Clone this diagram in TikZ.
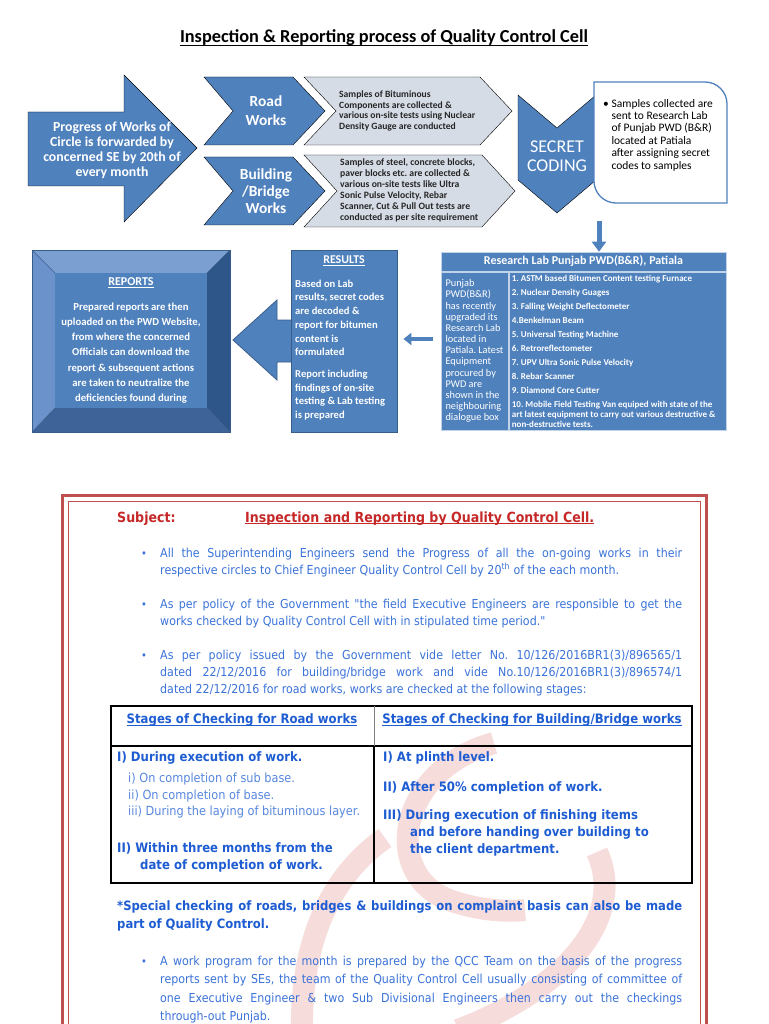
\documentclass[tikz,border=0pt]{standalone}
\usepackage{fontspec}
\setmainfont{Carlito}
\newfontfamily\tahoma[FakeStretch=0.9]{DejaVu Sans}
\usetikzlibrary{arrows.meta}
\definecolor{officeblue}{HTML}{4F81BD}
\definecolor{edgeblue}{HTML}{385D8A}
\definecolor{paleslate}{HTML}{D6DCE6}
\definecolor{bevtop}{HTML}{7C9FD2}
\definecolor{bevleft}{HTML}{6B92CA}
\definecolor{bevright}{HTML}{2F5688}
\definecolor{bevbottom}{HTML}{3D6399}
\definecolor{framered}{HTML}{C0504D}
\definecolor{subjred}{HTML}{C62828}
\definecolor{inkblue}{HTML}{3A72D8}
\definecolor{boldblue}{HTML}{1E5CD2}
\definecolor{markpink}{HTML}{F7DCDC}
\newcommand{\fsz}[2]{\fontsize{#1}{#2}\selectfont}
\newlength\ulw
\newcommand{\undl}[1]{\settowidth{\ulw}{#1}\rlap{#1}\rule[-0.16em]{\ulw}{0.07em}}
\frenchspacing

\begin{document}
\begin{tikzpicture}[x=1pt, y=-1pt,
  flowfill/.style={fill=officeblue},
  slatefill/.style={fill=paleslate},
  whitetext/.style={text=white, align=center, inner sep=0},
  slatetext/.style={text=black!85, align=left, inner sep=0, font=\bfseries\fsz{9.6}{10.7}},
  blockfill/.style={fill=officeblue, draw=edgeblue, line width=0.8pt},
  labcell/.style={fill=officeblue, draw=white!65!officeblue, line width=0.6pt, text=white, inner sep=0},
  para/.style={text width=522, align=justify, inner sep=0, text=inkblue, font=\tahoma\fsz{12.3}{17}},
  dotmark/.style={inner sep=0, text=inkblue, font=\tahoma\fsz{11}{12}},
  boldline/.style={inner sep=0, text=boldblue, font=\tahoma\bfseries\fsz{13}{15}},
  thinline/.style={inner sep=0, text=inkblue!85!white, font=\tahoma\fsz{12.6}{14}},
  tabline/.style={black, line width=1.6pt},
  pinkmark/.style={markpink, line width=22pt}]

\useasboundingbox (0,0) rectangle (768,1024);

% Title
\node[font=\bfseries\fsz{18.3}{20}] (title) at (384,38)
  {\undl{Inspection \& Reporting process of Quality Control Cell}};

% Progress arrow
\draw[flowfill] (28,112) -- (124,112) -- (124,75) -- (197,148) -- (124,222)
  -- (124,186) -- (28,186) -- cycle;
\node[whitetext, font=\bfseries\fsz{13.8}{15}] (progress) at (112,150)
  {Progress of Works of\\Circle is forwarded by\\concerned SE by 20th of\\every month};

% Road and building chevrons
\draw[flowfill] (204,77) -- (293,77) -- (325,111) -- (293,145) -- (204,145) -- (233,111) -- cycle;
\draw[flowfill] (204,157) -- (293,157) -- (325,191) -- (293,225) -- (204,225) -- (233,191) -- cycle;
\node[whitetext, font=\bfseries\fsz{15.4}{19}] (road) at (266,111) {Road\\Works};
\node[whitetext, font=\bfseries\fsz{15.4}{17}] (building) at (266,191) {Building\\/Bridge\\Works};

% Site test chevrons
\draw[slatefill] (304,77) -- (480,77) -- (512,111) -- (480,145) -- (304,145) -- (336,111) -- cycle;
\draw[slatefill] (304,155) -- (482,155) -- (515,191) -- (482,227) -- (304,227) -- (337,191) -- cycle;
\node[slatetext, anchor=west] (roadtests) at (339,111)
  {Samples of Bituminous\\Components are collected \&\\various on-site tests using Nuclear\\Density Gauge are conducted};
\node[slatetext, anchor=west, font=\bfseries\fsz{9.7}{11}] (bldgtests) at (340,190)
  {Samples of steel, concrete blocks,\\paver blocks etc. are collected \&\\various on-site tests like Ultra\\Sonic Pulse Velocity, Rebar\\Scanner, Cut \& Pull Out tests are\\conducted as per site requirement};

% Secret coding chevron
\draw[flowfill] (518,95) -- (557,128) -- (596,95) -- (596,180) -- (557,213) -- (518,180) -- cycle;
\node[whitetext, font=\fsz{18}{19.5}] (secret) at (557,156) {SECRET\\CODING};

% Samples box
\draw[fill=white, draw=officeblue, line width=1.3pt] (594,82) -- (705,82)
  arc[start angle=-90, end angle=0, radius=22] -- (727,203) -- (616,203)
  arc[start angle=90, end angle=180, radius=22] -- cycle;
\node[align=left, inner sep=0, font=\fsz{11.5}{12.4}, anchor=west] (samples) at (603,135)
  {\textbullet\ Samples collected are\\\phantom{\textbullet\ }sent to Research Lab\\\phantom{\textbullet\ }of Punjab PWD (B\&R)\\\phantom{\textbullet\ }located at Patiala\\\phantom{\textbullet\ }after assigning secret\\\phantom{\textbullet\ }codes to samples};

% Research lab
\node[labcell, minimum width=285, minimum height=19, font=\bfseries\fsz{12}{13}] (labhead) at (583.5,261.5)
  {Research Lab Punjab PWD(B\&R), Patiala};
\node[labcell, minimum width=67, minimum height=158, align=left, font=\fsz{10.3}{11.17}] (labnote) at (474.5,351)
  {Punjab\\PWD(B\&R)\\has recently\\upgraded its\\Research Lab\\located in\\Patiala. Latest\\Equipment\\procured by\\PWD are\\shown in the\\neighbouring\\dialogue box};
\node[labcell, minimum width=217, minimum height=158] (labkit) at (617.5,351) {};
\node[text=white, align=left, inner sep=0, anchor=west, font=\bfseries\fsz{9}{10}] (kitlist) at ([xshift=3pt]labkit.west)
  {1. ASTM based Bitumen Content testing Furnace\\[4pt]2. Nuclear Density Guages\\[4pt]3. Falling Weight Deflectometer\\[4pt]4.Benkelman Beam\\[4pt]5. Universal Testing Machine\\[4pt]6. Retroreflectometer\\[4pt]7. UPV Ultra Sonic Pulse Velocity\\[4pt]8. Rebar Scanner\\[4pt]9. Diamond Core Cutter\\[4pt]10. Mobile Field Testing Van equiped with state of the\\art latest equipment to carry out various destructive \&\\non-destructive tests.};

\coordinate (codedown) at (599,221);
\draw[officeblue, line width=5pt, -{Triangle[width=14pt,length=10pt]}] (codedown) -- (codedown |- labhead.north);

% Results with arrow to reports
\draw[blockfill] (233,340) -- (277,300) -- (277,320) -- (300,320) -- (300,362) -- (277,362) -- (277,380) -- cycle;
\node[blockfill, minimum width=106, minimum height=182] (results) at (344,341) {};
\node[text=white, inner sep=0, font=\bfseries\fsz{11.9}{13}] (restitle) at (344,261) {\undl{RESULTS}};
\node[text=white, align=left, inner sep=0, anchor=west, font=\bfseries\fsz{10.6}{13.7}] (resbody) at (295,350)
  {Based on Lab\\results, secret codes\\are decoded \&\\report for bitumen\\content is\\formulated\\[8pt]Report including\\findings of on-site\\testing \& Lab testing\\is prepared};
\coordinate (kitout) at (433,339);
\draw[officeblue, line width=4.5pt, shorten >=6pt, -{Triangle[width=12pt,length=8pt]}] (kitout) -- (results.east |- kitout);

% Reports bevel box
\fill[bevtop] (32,250) -- (230,250) -- (207,273) -- (55,273) -- cycle;
\fill[bevleft] (32,250) -- (55,273) -- (55,408) -- (32,432) -- cycle;
\fill[bevright] (230,250) -- (230,432) -- (207,408) -- (207,273) -- cycle;
\fill[bevbottom] (32,432) -- (55,408) -- (207,408) -- (230,432) -- cycle;
\node[fill=officeblue, minimum width=152, minimum height=135, inner sep=0] (reports) at (131,340.5) {};
\draw[edgeblue, line width=0.8pt] (32,250) rectangle (230,432);
\draw[edgeblue, line width=0.4pt] (32,250) -- (55,273) (230,250) -- (207,273) (32,432) -- (55,408) (230,432) -- (207,408);
\node[text=white, inner sep=0, font=\bfseries\fsz{12}{13}] (reptitle) at (131,283) {\undl{REPORTS}};
\node[text=white, align=center, inner sep=0, font=\bfseries\fsz{10.7}{15.2}] (repbody) at (131,353)
  {Prepared reports are then\\uploaded on the PWD Website,\\from where the concerned\\Officials can download the\\report \& subsequent actions\\are taken to neutralize the\\deficiencies found during};

% Letter frame
\draw[framered, line width=3pt] (62,495) rectangle (706,1040);
\draw[framered, line width=0.8pt] (68,501) rectangle (700,1040);

% Watermark
\draw[pinkmark] (385,838) .. controls (325,880) and (300,950) .. (302,1035);
\draw[pinkmark] (597,852) .. controls (628,920) and (560,992) .. (458,1030);
\draw[pinkmark] (494,743) .. controls (395,770) and (380,880) .. (455,902)
  .. controls (480,910) and (505,912) .. (525,910);

\node[inner sep=0, anchor=base west, text=subjred, font=\tahoma\bfseries\fsz{14}{16}] (subject) at (117,522) {Subject:};
\node[inner sep=0, anchor=base west, text=subjred, font=\tahoma\bfseries\fsz{14}{16}] (subjtitle) at (245,522)
  {\undl{Inspection and Reporting by Quality Control Cell.}};

\node[dotmark] (dot1) at (144,555) {\textbullet};
\node[para, anchor=base west] (para1) at (160,557)
  {All the Superintending Engineers send the Progress of all the on-going works in their\linebreak respective circles to Chief Engineer Quality Control Cell by 20\textsuperscript{th} of the each month.};
\node[dotmark] (dot2) at (144,606) {\textbullet};
\node[para, anchor=base west] (para2) at (160,608)
  {As per policy of the Government "the field Executive Engineers are responsible to get the\linebreak works checked by Quality Control Cell with in stipulated time period."};
\node[dotmark] (dot3) at (144,657) {\textbullet};
\node[para, anchor=base west] (para3) at (160,659)
  {As per policy issued by the Government vide letter No. 10/126/2016BR1(3)/896565/1\linebreak dated 22/12/2016 for building/bridge work and vide No.10/126/2016BR1(3)/896574/1\linebreak dated 22/12/2016 for road works, works are checked at the following stages:};

% Stages table
\draw[tabline] (111,706) rectangle (692,883);
\draw[tabline] (111,746) -- (692,746);
\draw[gray, line width=0.8pt] (374,706) -- (374,746);
\draw[tabline] (374,746) -- (374,883);
\node[boldline] (roadhead) at (242,720) {\undl{Stages of Checking for Road works}};
\node[boldline] (bldghead) at (532,720) {\undl{Stages of Checking for Building/Bridge works}};

\node[boldline, anchor=base west] (road1) at (117,761) {I) During execution of work.};
\node[thinline, anchor=base west] (road1a) at (128,782) {i) On completion of sub base.};
\node[thinline, anchor=base west] (road1b) at (128,799) {ii) On completion of base.};
\node[thinline, anchor=base west] (road1c) at (128,815) {iii) During the laying of bituminous layer.};
\node[boldline, anchor=base west] (road2) at (117,852) {II) Within three months from the};
\node[boldline, anchor=base west] (road2b) at (140,869) {date of completion of work.};

\node[boldline, anchor=base west] (bldg1) at (383,761) {I) At plinth level.};
\node[boldline, anchor=base west] (bldg2) at (383,791) {II) After 50\% completion of work.};
\node[boldline, anchor=base west] (bldg3) at (383,819) {III) During execution of finishing items};
\node[boldline, anchor=base west] (bldg3b) at (410,836) {and before handing over building to};
\node[boldline, anchor=base west] (bldg3c) at (410,853) {the client department.};

\node[para, anchor=base west, text width=565, text=boldblue, font=\tahoma\bfseries\fsz{12.9}{18}] (special) at (117,910)
  {*Special checking of roads, bridges \& buildings on complaint basis can also be made\linebreak part of Quality Control.};

\node[dotmark] (dot4) at (144,963) {\textbullet};
\node[para, anchor=base west, font=\tahoma\fsz{12.3}{18.5}] (para4) at (160,965)
  {A work program for the month is prepared by the QCC Team on the basis of the progress\linebreak reports sent by SEs, the team of the Quality Control Cell usually consisting of committee of\linebreak one Executive Engineer \& two Sub Divisional Engineers then carry out the checkings\linebreak through-out Punjab.};
\end{tikzpicture}
\end{document}
